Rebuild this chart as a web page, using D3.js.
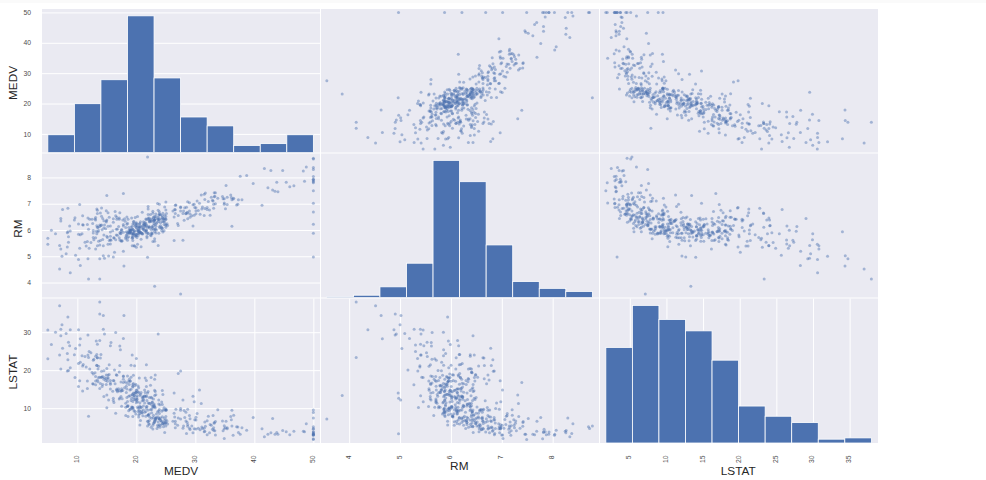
<!DOCTYPE html>
<html>
<head>
<meta charset="utf-8">
<style>
  html, body { margin: 0; padding: 0; background: #fff; }
  svg { display: block; }
  text { font-family: "Liberation Sans", Arial, sans-serif; }
</style>
<script src="https://cdnjs.cloudflare.com/ajax/libs/d3/7.8.5/d3.min.js"></script>
</head>
<body>
<div id="chart"></div>
<script>
// values, one entry per town, same order in all three lists
var rm = [
  6.575,6.421,7.185,6.998,7.147,6.430,6.012,6.172,5.631,6.004,
  6.377,6.009,5.889,5.949,6.096,5.834,5.935,5.990,5.456,5.727,
  5.570,5.965,6.142,5.813,5.924,5.599,5.813,6.047,6.495,6.674,
  5.713,6.072,5.950,5.701,6.096,5.933,5.841,5.850,5.966,6.595,
  7.024,6.770,6.169,6.211,6.069,5.682,5.786,6.030,5.399,5.602,
  5.963,6.115,6.511,5.998,5.888,7.249,6.383,6.816,6.145,5.927,
  5.741,5.966,6.456,6.762,7.104,6.290,5.787,5.878,5.594,5.885,
  6.417,5.961,6.065,6.245,6.273,6.286,6.279,6.140,6.232,5.874,
  6.727,6.619,6.302,6.167,6.389,6.630,6.015,6.121,7.007,7.079,
  6.417,6.405,6.442,6.211,6.249,6.625,6.163,8.069,7.820,7.416,
  6.727,6.781,6.405,6.137,6.167,5.851,5.836,6.127,6.474,6.229,
  6.195,6.715,5.913,6.092,6.254,5.928,6.176,6.021,5.872,5.731,
  5.870,6.004,5.961,5.856,5.879,5.986,5.613,5.693,6.431,5.637,
  6.458,6.326,6.372,5.822,5.757,6.335,5.942,6.454,5.857,6.151,
  6.174,5.019,5.403,5.468,4.903,6.130,5.628,4.926,5.186,5.597,
  6.122,5.404,5.012,5.709,6.129,6.152,5.272,6.943,6.066,6.510,
  6.250,7.489,7.802,8.375,5.854,6.101,7.929,5.877,6.319,6.402,
  5.875,5.880,5.572,6.416,5.859,6.546,6.020,6.315,6.860,6.980,
  7.765,6.144,7.155,6.563,5.604,6.153,7.831,6.782,6.556,7.185,
  6.951,6.739,7.178,6.800,6.604,7.875,7.287,7.107,7.274,6.975,
  7.135,6.162,7.610,7.853,8.034,5.891,6.326,5.783,6.064,5.344,
  5.960,5.404,5.807,6.375,5.412,6.182,5.888,6.642,5.951,6.373,
  6.951,6.164,6.879,6.618,8.266,8.725,8.040,7.163,7.686,6.552,
  5.981,7.412,8.337,8.247,6.726,6.086,6.631,7.358,6.481,6.606,
  6.897,6.095,6.358,6.393,5.593,5.605,6.108,6.226,6.433,6.718,
  6.487,6.438,6.957,8.259,6.108,5.876,7.454,8.704,7.333,6.842,
  7.203,7.520,8.398,7.327,7.206,5.560,7.014,8.297,7.470,5.920,
  5.856,6.240,6.538,7.691,6.758,6.854,7.267,6.826,6.482,6.812,
  7.820,6.968,7.645,7.923,7.088,6.453,6.230,6.209,6.315,6.565,
  6.861,7.148,6.630,6.127,6.009,6.678,6.549,5.790,6.345,7.041,
  6.871,6.590,6.495,6.982,7.236,6.616,7.420,6.849,6.635,5.972,
  4.973,6.122,6.023,6.266,6.567,5.705,5.914,5.782,6.382,6.113,
  6.426,6.376,6.041,5.708,6.415,6.431,6.312,6.083,5.868,6.333,
  6.144,5.706,6.031,6.316,6.310,6.037,5.869,5.895,6.059,5.985,
  5.968,7.241,6.540,6.696,6.874,6.014,5.898,6.516,6.635,6.939,
  6.490,6.579,5.884,6.728,5.663,5.936,6.212,6.395,6.127,6.112,
  6.398,6.251,5.362,5.803,8.780,3.561,4.963,3.863,4.970,6.683,
  7.016,6.216,5.875,4.906,4.138,7.313,6.649,6.794,6.380,6.223,
  6.968,6.545,5.536,5.520,4.368,5.277,4.652,5.000,4.880,5.390,
  5.713,6.051,5.036,6.193,5.887,6.471,6.405,5.747,5.453,5.852,
  5.987,6.343,6.404,5.349,5.531,5.683,4.138,5.608,5.617,6.852,
  5.757,6.657,4.628,5.155,4.519,6.434,6.782,5.304,5.957,6.824,
  6.411,6.006,5.648,6.103,5.565,5.896,5.837,6.202,6.193,6.380,
  6.348,6.833,6.425,6.436,6.208,6.629,6.461,6.152,5.935,5.627,
  5.818,6.406,6.219,6.485,5.854,6.459,6.341,6.251,6.185,6.417,
  6.749,6.655,6.297,7.393,6.728,6.525,5.976,5.936,6.301,6.081,
  6.701,6.376,6.317,6.513,6.209,5.759,5.952,6.003,5.926,5.713,
  6.167,6.229,6.437,6.980,5.427,6.162,6.484,5.304,6.185,6.229,
  6.242,6.750,7.061,5.762,5.871,6.312,6.114,5.905,5.454,5.414,
  5.093,5.983,5.983,5.707,5.926,5.670,5.390,5.794,6.019,5.569,
  6.027,6.593,6.120,6.976,6.794,6.030
];

var lstat = [
  4.98,9.14,4.03,2.94,5.33,5.21,12.43,19.15,29.93,17.10,
  20.45,13.27,15.71,8.26,10.26,8.47,6.58,14.67,11.69,11.28,
  21.02,13.83,18.72,19.88,16.30,16.51,14.81,17.28,12.80,11.98,
  22.60,13.04,27.71,18.35,20.34,9.68,11.41,8.77,10.13,4.32,
  1.98,4.84,5.81,7.44,9.55,10.21,14.15,18.80,30.81,16.20,
  13.45,9.43,5.28,8.43,14.80,4.81,5.77,3.95,6.86,9.22,
  13.15,14.44,6.73,9.50,8.05,4.67,10.24,8.10,13.09,8.79,
  6.72,9.88,5.52,7.54,6.78,8.94,11.97,10.27,12.34,9.10,
  5.29,7.22,6.72,7.51,9.62,6.53,12.86,8.44,5.50,5.70,
  8.81,8.20,8.16,6.21,10.59,6.65,11.34,4.21,3.57,6.19,
  9.42,7.67,10.63,13.44,12.33,16.47,18.66,14.09,12.27,15.55,
  13.00,10.16,16.21,17.09,10.45,15.76,12.04,10.30,15.37,13.61,
  14.37,14.27,17.93,25.41,17.58,14.81,27.26,17.19,15.39,18.34,
  12.60,12.26,11.12,15.03,17.31,16.96,16.90,14.59,21.32,18.46,
  24.16,34.41,26.82,26.42,29.29,27.80,16.65,29.53,28.32,21.45,
  14.10,13.28,12.12,15.79,15.12,15.02,16.14,4.59,6.43,7.39,
  5.50,1.73,1.92,3.32,11.64,9.81,3.70,12.14,11.10,11.32,
  14.43,12.03,14.69,9.04,9.64,5.33,10.11,6.29,6.92,5.04,
  7.56,9.45,4.82,5.68,13.98,13.15,4.45,6.68,4.56,5.39,
  5.10,4.69,2.87,5.03,4.38,2.97,4.08,8.61,6.62,4.56,
  4.45,7.43,3.11,3.81,2.88,10.87,10.97,18.06,14.66,23.09,
  17.27,23.98,16.03,9.38,29.55,9.47,13.51,9.69,17.92,10.50,
  9.71,21.46,9.93,7.60,4.14,4.63,3.13,6.36,3.92,3.76,
  11.65,5.25,2.47,3.95,8.05,10.88,9.54,4.73,6.36,7.37,
  11.38,12.40,11.22,5.19,12.50,18.46,9.16,10.15,9.52,6.56,
  5.90,3.59,3.53,3.54,6.57,9.25,3.11,5.12,7.79,6.90,
  9.59,7.26,5.91,11.25,8.10,10.45,14.79,7.44,3.16,13.65,
  13.00,6.59,7.73,6.58,3.53,2.98,6.05,4.16,7.19,4.85,
  3.76,4.59,3.01,3.16,7.85,8.23,12.93,7.14,7.60,9.51,
  3.33,3.56,4.70,8.58,10.40,6.27,7.39,15.84,4.97,4.74,
  6.07,9.50,8.67,4.86,6.93,8.93,6.47,7.53,4.54,9.97,
  12.64,5.98,11.72,7.90,9.28,11.50,18.33,15.94,10.36,12.73,
  7.20,6.87,7.70,11.74,6.12,5.08,6.15,12.79,9.97,7.34,
  9.09,12.43,7.83,5.68,6.75,8.01,9.80,10.56,8.51,9.74,
  9.29,5.49,8.65,7.18,4.61,10.53,12.67,6.36,5.99,5.89,
  5.98,5.49,7.79,4.50,8.05,5.57,17.60,13.27,11.48,12.67,
  7.79,14.19,10.19,14.64,5.29,7.12,14.00,13.33,3.26,3.73,
  2.96,9.53,8.88,34.77,37.97,13.44,23.24,21.24,23.69,21.78,
  17.21,21.08,23.60,24.56,30.63,30.81,28.28,31.99,30.62,20.85,
  17.11,18.76,25.68,15.17,16.35,17.12,19.37,19.92,30.59,29.97,
  26.77,20.32,20.31,19.77,27.38,22.98,23.34,12.13,26.40,19.78,
  10.11,21.22,34.37,20.08,36.98,29.05,25.79,26.64,20.62,22.74,
  15.02,15.70,14.10,23.29,17.16,24.39,15.69,14.52,21.52,24.08,
  17.64,19.69,12.03,16.22,15.17,23.27,18.05,26.45,34.02,22.88,
  22.11,19.52,16.59,18.85,23.79,23.98,17.79,16.44,18.13,19.31,
  17.44,17.73,17.27,16.74,18.71,18.13,19.01,16.94,16.23,14.70,
  16.42,14.65,13.99,10.29,13.22,14.13,17.15,21.32,18.13,14.76,
  16.29,12.87,14.36,11.66,18.14,24.10,18.68,24.91,18.03,13.11,
  10.74,7.74,7.01,10.42,13.34,10.58,14.98,11.45,18.06,23.97,
  29.68,18.07,13.35,12.01,13.59,17.60,21.14,14.10,12.92,15.10,
  14.33,9.67,9.08,5.64,6.48,7.88
];

var medv = [
  24,21.6,34.7,33.4,36.2,28.7,22.9,27.1,16.5,18.9,
  15,18.9,21.7,20.4,18.2,19.9,23.1,17.5,20.2,18.2,
  13.6,19.6,15.2,14.5,15.6,13.9,16.6,14.8,18.4,21,
  12.7,14.5,13.2,13.1,13.5,18.9,20,21,24.7,30.8,
  34.9,26.6,25.3,24.7,21.2,19.3,20,16.6,14.4,19.4,
  19.7,20.5,25,23.4,18.9,35.4,24.7,31.6,23.3,19.6,
  18.7,16,22.2,25,33,23.5,19.4,22,17.4,20.9,
  24.2,21.7,22.8,23.4,24.1,21.4,20,20.8,21.2,20.3,
  28,23.9,24.8,22.9,23.9,26.6,22.5,22.2,23.6,28.7,
  22.6,22,22.9,25,20.6,28.4,21.4,38.7,43.8,33.2,
  27.5,26.5,18.6,19.3,20.1,19.5,19.5,20.4,19.8,19.4,
  21.7,22.8,18.8,18.7,18.5,18.3,21.2,19.2,20.4,19.3,
  22,20.3,20.5,17.3,18.8,21.4,15.7,16.2,18,14.3,
  19.2,19.6,23,18.4,15.6,18.1,17.4,17.1,13.3,17.8,
  14,14.4,13.4,15.6,11.8,13.8,15.6,14.6,17.8,15.4,
  21.5,19.6,15.3,19.4,17,15.6,13.1,41.3,24.3,23.3,
  27,50,50,50,22.7,25,50,23.8,23.8,22.3,
  17.4,19.1,23.1,23.6,22.6,29.4,23.2,24.6,29.9,37.2,
  39.8,36.2,37.9,32.5,26.4,29.6,50,32,29.8,34.9,
  37,30.5,36.4,31.1,29.1,50,33.3,30.3,34.6,34.9,
  32.9,24.1,42.3,48.5,50,22.6,24.4,22.5,24.4,20,
  21.7,19.3,22.4,28.1,23.7,25,23.3,28.7,21.5,23,
  26.7,21.7,27.5,30.1,44.8,50,37.6,31.6,46.7,31.5,
  24.3,31.7,41.7,48.3,29,24,25.1,31.5,23.7,23.3,
  22,20.1,22.2,23.7,17.6,18.5,24.3,20.5,24.5,26.2,
  24.4,24.8,29.6,42.8,21.9,20.9,44,50,36,30.1,
  33.8,43.1,48.8,31,36.5,22.8,30.7,50,43.5,20.7,
  21.1,25.2,24.4,35.2,32.4,32,33.2,33.1,29.1,35.1,
  45.4,35.4,46,50,32.2,22,20.1,23.2,22.3,24.8,
  28.5,37.3,27.9,23.9,21.7,28.6,27.1,20.3,22.5,29,
  24.8,22,26.4,33.1,36.1,28.4,33.4,28.2,22.8,20.3,
  16.1,22.1,19.4,21.6,23.8,16.2,17.8,19.8,23.1,21,
  23.8,23.1,20.4,18.5,25,24.6,23,22.2,19.3,22.6,
  19.8,17.1,19.4,22.2,20.7,21.1,19.5,18.5,20.6,19,
  18.7,32.7,16.5,23.9,31.2,17.5,17.2,23.1,24.5,26.6,
  22.9,24.1,18.6,30.1,18.2,20.6,17.8,21.7,22.7,22.6,
  25,19.9,20.8,16.8,21.9,27.5,21.9,23.1,50,50,
  50,50,50,13.8,13.8,15,13.9,13.3,13.1,10.2,
  10.4,10.9,11.3,12.3,8.8,7.2,10.5,7.4,10.2,11.5,
  15.1,23.2,9.7,13.8,12.7,13.1,12.5,8.5,5,6.3,
  5.6,7.2,12.1,8.3,8.5,5,11.9,27.9,17.2,27.5,
  15,17.2,17.9,16.3,7,7.2,7.5,10.4,8.8,8.4,
  16.7,14.2,20.8,13.4,11.7,8.3,10.2,10.9,11,9.5,
  14.5,14.1,16.1,14.3,11.7,13.4,9.6,8.7,8.4,12.8,
  10.5,17.1,18.4,15.4,10.8,11.8,14.9,12.6,14.1,13,
  13.4,15.2,16.1,17.8,14.9,14.1,12.7,13.5,14.9,20,
  16.4,17.7,19.5,20.2,21.4,19.9,19,19.1,19.1,20.1,
  19.9,19.6,23.2,29.8,13.8,13.3,16.7,12,14.6,21.4,
  23,23.7,25,21.8,20.6,21.2,19.1,20.6,15.2,7,
  8.1,13.6,20.1,21.8,24.5,23.1,19.7,18.3,21.2,17.5,
  16.8,22.4,20.6,23.9,22,11.9
];

// histogram bar counts (10 bins each)
var medvCounts = [20, 55, 82, 154, 84, 40, 30, 8, 10, 20];
var rmCounts = [1, 3, 14, 45, 180, 152, 69, 21, 12, 8];
var lstatCounts = [75, 108, 97, 88, 65, 29, 21, 16, 3, 4];

// tick labels
var medvTicks = [10, 20, 30, 40, 50];
var rmTicks = [4, 5, 6, 7, 8];
var lstatTicksX = [5, 10, 15, 20, 25, 30, 35];
var lstatTicksY = [10, 20, 30];

var names = ["MEDV", "RM", "LSTAT"];
var columns = [medv, rm, lstat];
var counts = [medvCounts, rmCounts, lstatCounts];
var xTicks = [medvTicks, rmTicks, lstatTicksX];
var yTicks = [medvTicks, rmTicks, lstatTicksY];

// layout
var width = 986, height = 480;
var colEdges = [[42, 320], [321, 599], [600, 878]];
var rowEdges = [[9, 152.5], [153.5, 297.5], [298.5, 443]];
var barColor = "#4c72b0", panelColor = "#eaeaf2";

// which panels show which grid lines: [row, col, horizontal, vertical]
var gridPanels = [[0, 0, 1, 0], [1, 0, 1, 0], [2, 0, 1, 1], [2, 1, 0, 1], [2, 2, 0, 1]];

var svg = d3.select("#chart").append("svg")
  .attr("width", width)
  .attr("height", height);

svg.append("rect").attr("width", width).attr("height", 3).attr("fill", "#fafafa");

// same 5% padding around each variable's range for x and y
function bounds(col) {
  var e = d3.extent(col), pad = (e[1] - e[0]) * 0.025;
  return [e[0] - pad, e[1] + pad];
}
var xScales = columns.map(function(col, i) {
  return d3.scaleLinear().domain(bounds(col)).range([colEdges[i][0] - 0.8, colEdges[i][1]]);
});
var yScales = columns.map(function(col, i) {
  return d3.scaleLinear().domain(bounds(col)).range([rowEdges[i][1], rowEdges[i][0]]);
});

var defs = svg.append("defs");

names.forEach(function(rowName, r) {
  names.forEach(function(colName, c) {
    var x0 = colEdges[c][0], x1 = colEdges[c][1];
    var y0 = rowEdges[r][0], y1 = rowEdges[r][1];
    var clipId = "clip" + r + c;

    defs.append("clipPath").attr("id", clipId)
      .append("rect")
        .attr("x", x0).attr("y", y0)
        .attr("width", x1 - x0).attr("height", y1 - y0);

    var panel = svg.append("g");
    panel.append("rect")
      .attr("x", x0).attr("y", y0)
      .attr("width", x1 - x0).attr("height", y1 - y0)
      .attr("fill", panelColor);

    // grid lines
    gridPanels.forEach(function(g) {
      if (g[0] !== r || g[1] !== c) return;
      if (g[2]) {
        panel.append("g")
          .attr("transform", "translate(" + x0 + ",0)")
          .call(d3.axisLeft(yScales[r]).tickValues(yTicks[r]).tickSize(-(x1 - x0)).tickFormat(""))
          .call(function(s) { s.select(".domain").remove(); })
          .selectAll("line").attr("stroke", "white").attr("stroke-width", 1);
      }
      if (g[3]) {
        panel.append("g")
          .attr("transform", "translate(0," + y1 + ")")
          .call(d3.axisBottom(xScales[c]).tickValues(xTicks[c]).tickSize(-(y1 - y0)).tickFormat(""))
          .call(function(s) { s.select(".domain").remove(); })
          .selectAll("line").attr("stroke", "white").attr("stroke-width", 1);
      }
    });

    var marks = panel.append("g").attr("clip-path", "url(#" + clipId + ")");

    if (r === c) {
      // diagonal: histogram
      var e = d3.extent(columns[c]);
      var step = (e[1] - e[0]) / counts[c].length;
      var yCount = d3.scaleLinear()
        .domain([0, d3.max(counts[c]) * 1.05])
        .range([y1, y0]);
      marks.selectAll("rect")
        .data(counts[c])
        .enter()
        .append("rect")
          .attr("x", function(d, i) { return xScales[c](e[0] + i * step); })
          .attr("width", function(d, i) { return xScales[c](e[0] + (i + 1) * step) - xScales[c](e[0] + i * step); })
          .attr("y", function(d) { return yCount(d); })
          .attr("height", function(d) { return y1 - yCount(d); })
          .attr("fill", barColor)
          .attr("stroke", "white")
          .attr("stroke-width", 0.8);
    } else {
      marks.selectAll("circle")
        .data(d3.range(medv.length))
        .enter()
        .append("circle")
          .attr("cx", function(i) { return xScales[c](columns[c][i]); })
          .attr("cy", function(i) { return yScales[r](columns[r][i]); })
          .attr("r", 1.5)
          .style("fill", barColor)
          .style("opacity", 0.45);
    }
  });
});

// y tick labels on the left column
names.forEach(function(name, r) {
  var ax = svg.append("g")
    .attr("transform", "translate(42,0)")
    .call(d3.axisLeft(yScales[r]).tickValues(yTicks[r]).tickSize(0).tickPadding(11).tickFormat(d3.format("d")));
  ax.select(".domain").remove();
  ax.selectAll("text")
    .style("font-size", "6.8px")
    .style("font-family", "'Liberation Sans', Arial, sans-serif")
    .style("fill", "#4d4d4d");
});

// x tick labels on the bottom row, rotated
names.forEach(function(name, c) {
  var ax = svg.append("g")
    .attr("transform", "translate(0,443)")
    .call(d3.axisBottom(xScales[c]).tickValues(xTicks[c]).tickSize(0).tickFormat(d3.format("d")));
  ax.select(".domain").remove();
  ax.selectAll("text")
    .attr("x", 0).attr("y", 0).attr("dy", 0)
    .attr("transform", "translate(1,12.5)rotate(-90)")
    .style("text-anchor", "end")
    .style("font-size", "6.8px")
    .style("font-family", "'Liberation Sans', Arial, sans-serif")
    .style("fill", "#4d4d4d");
});

// axis titles
var yTitleAt = [[16.7, 83], [21.7, 228.7], [16.7, 372]];
var xTitleAt = [[181, 475], [459.3, 470.3], [738.3, 475]];
names.forEach(function(name, i) {
  svg.append("text")
    .attr("transform", "translate(" + yTitleAt[i][0] + "," + yTitleAt[i][1] + ")rotate(-90)")
    .attr("text-anchor", "middle")
    .style("font-size", "11.8px")
    .style("fill", "#262626")
    .text(name);
  svg.append("text")
    .attr("x", xTitleAt[i][0])
    .attr("y", xTitleAt[i][1])
    .attr("text-anchor", "middle")
    .style("font-size", "11.8px")
    .style("fill", "#262626")
    .text(name);
});
</script>
</body>
</html>
